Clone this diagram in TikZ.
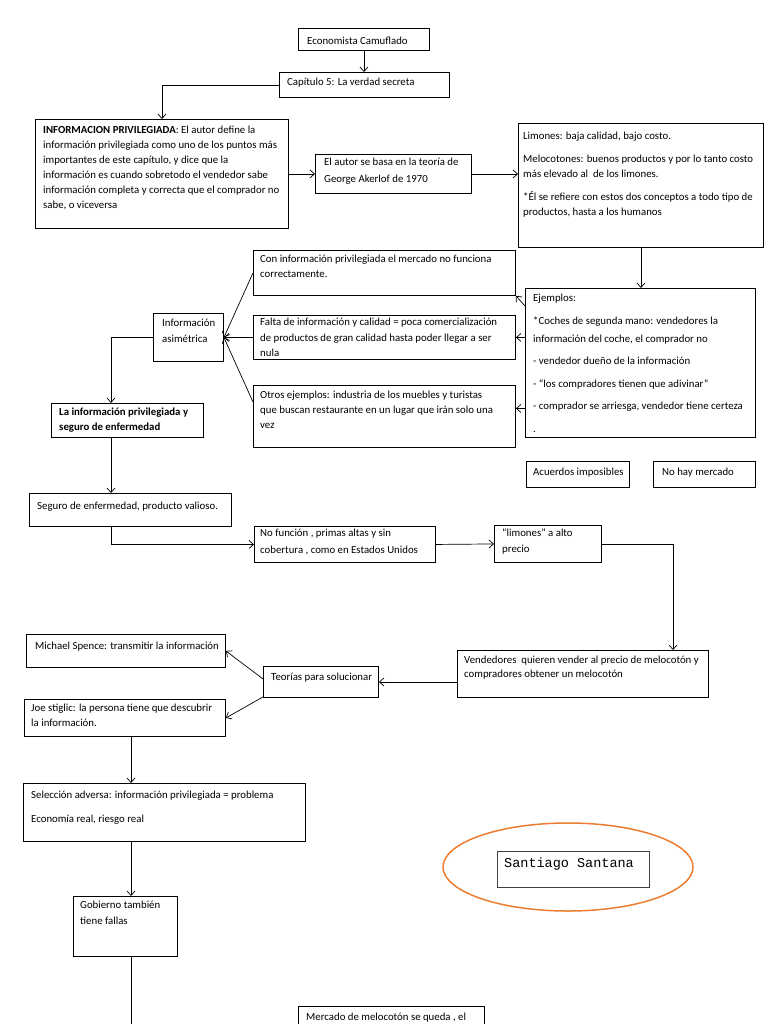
\documentclass[tikz,border=0pt]{standalone}
\usepackage{fontspec}
\setmainfont{Carlito}
\newfontfamily\monofam{Liberation Mono}
\usetikzlibrary{arrows.meta}
\definecolor{naranja}{HTML}{ED7D31}
\begin{document}
\begin{tikzpicture}[x=1pt, y=-1pt,
		caja/.style={draw, line width=0.9pt, inner sep=0pt, anchor=north west},
		texto/.style={anchor=north west, inner sep=0pt, align=left, font=\fontsize{10.8}{15}\selectfont, execute at begin node={\rule{0pt}{10.8pt}}},
		flecha/.style={line width=0.7pt, -{Straight Barb[length=4.5pt,width=8pt]}},
		linea/.style={line width=0.7pt}]
		\fill[white] (0,0) rectangle (768,1024);
		\useasboundingbox (0,0) rectangle (768,1024);
		
		% Parte superior
		\node[caja, minimum width=131pt, minimum height=22pt] (econ) at (298,28) {};
		\node[texto] (t-econ) at ([shift={(9,5.3)}]econ.north west) {Economista Camuflado};
		\node[caja, minimum width=170pt, minimum height=25pt] (cap) at (279,72) {};
		\node[texto] (t-cap) at ([shift={(8,2.5)}]cap.north west) {Capítulo 5: La verdad secreta};
		\node[caja, minimum width=253pt, minimum height=109pt] (info) at (35,119) {};
		\node[texto] (t-info) at ([shift={(8,7)}]info.north west) {\textbf{INFORMACION PRIVILEGIADA}: El autor define la\\información privilegiada como uno de los puntos más\\importantes de este capítulo, y dice que la\\información es cuando sobretodo el vendedor sabe\\información completa y correcta que el comprador no\\sabe, o viceversa};
		\node[caja, minimum width=156pt, minimum height=39pt] (ake) at (315,154) {};
		\node[texto, font=\fontsize{10.8}{17}\selectfont] (t-ake) at ([shift={(9,3.5)}]ake.north west) {El autor se basa en la teoría de\\George Akerlof de 1970};
		\node[caja, minimum width=245pt, minimum height=124pt] (lim) at (518,123) {};
		\node[texto, font=\fontsize{10.8}{14.5}\selectfont] (t-lim) at ([shift={(5,8.5)}]lim.north west) {Limones: baja calidad, bajo costo.\\[9pt]Melocotones: buenos productos y por lo tanto costo\\más elevado al~ de los limones.\\[9pt]{*}Él se refiere con estos dos conceptos a todo tipo de\\productos, hasta a los humanos};
		
		% Ejemplos y consecuencias
		\node[caja, minimum width=230pt, minimum height=149pt] (eje) at (525,288) {};
		\node[texto, font=\fontsize{10.8}{22.5}\selectfont] (t-eje) at ([shift={(8,6)}]eje.north west) {Ejemplos:\\{*}Coches de segunda mano: vendedores la\\[-4.5pt]información del coche, el comprador no\\- vendedor dueño de la información\\- “los compradores tienen que adivinar”\\- comprador se arriesga, vendedor tiene certeza\\.};
		\node[caja, minimum width=103pt, minimum height=26pt] (acu) at (526,461) {};
		\node[texto] (t-acu) at ([shift={(7,3.3)}]acu.north west) {Acuerdos imposibles};
		\node[caja, minimum width=102pt, minimum height=26pt] (nohay) at (653,461) {};
		\node[texto] (t-nohay) at ([shift={(9,3.3)}]nohay.north west) {No hay mercado};
		
		\node[caja, minimum width=262pt, minimum height=45pt] (con) at (253,250) {};
		\node[texto] (t-con) at ([shift={(7,4.5)}]con.north west) {Con información privilegiada el mercado no funciona\\correctamente.};
		\node[caja, minimum width=262pt, minimum height=44pt] (falta) at (253,315) {};
		\node[texto, font=\fontsize{10.8}{15.5}\selectfont] (t-falta) at ([shift={(7,3)}]falta.north west) {Falta de información y calidad = poca comercialización\\de productos de gran calidad hasta poder llegar a ser\\nula};
		\node[caja, minimum width=262pt, minimum height=62pt] (otros) at (253,385) {};
		\node[texto] (t-otros) at ([shift={(7,5.3)}]otros.north west) {Otros ejemplos: industria de los muebles y turistas\\que buscan restaurante en un lugar que irán solo una\\vez};
		\node[caja, minimum width=70pt, minimum height=48pt] (asim) at (153,313) {};
		\node[texto, font=\fontsize{10.8}{16}\selectfont] (t-asim) at ([shift={(9,6.3)}]asim.north west) {Información\\asimétrica};
		\node[caja, minimum width=152pt, minimum height=34pt] (lainfo) at (51,403) {};
		\node[texto] (t-lainfo) at ([shift={(8,4.3)}]lainfo.north west) {\textbf{La información privilegiada y}\\\textbf{seguro de enfermedad}};
		
		% Seguro de enfermedad
		\node[caja, minimum width=202pt, minimum height=33pt] (seg) at (29,493) {};
		\node[texto] (t-seg) at ([shift={(8,5.3)}]seg.north west) {Seguro de enfermedad, producto valioso.};
		\node[caja, minimum width=181pt, minimum height=36pt] (nofun) at (254,526) {};
		\node[texto, font=\fontsize{10.8}{17}\selectfont] (t-nofun) at ([shift={(6,2.3)}]nofun.north west) {No función , primas altas y sin\\cobertura , como en Estados Unidos};
		\node[caja, minimum width=107pt, minimum height=37pt] (limn) at (494,525) {};
		\node[texto, font=\fontsize{10.8}{16}\selectfont] (t-limn) at ([shift={(8,3.3)}]limn.north west) {“limones” a alto\\precio};
		\node[caja, minimum width=251pt, minimum height=47pt] (vend) at (457,650) {};
		\node[texto, font=\fontsize{10.8}{14}\selectfont] (t-vend) at ([shift={(7,5.3)}]vend.north west) {Vendedores~ quieren vender al precio de melocotón y\\compradores obtener un melocotón};
		\node[caja, minimum width=115pt, minimum height=31pt] (teo) at (263,666) {};
		\node[texto] (t-teo) at ([shift={(8,3.3)}]teo.north west) {Teorías para solucionar};
		\node[caja, minimum width=199pt, minimum height=33pt] (mich) at (26,634) {};
		\node[texto] (t-mich) at ([shift={(9,4.3)}]mich.north west) {Michael Spence: transmitir la información};
		\node[caja, minimum width=201pt, minimum height=37pt] (joe) at (24,699) {};
		\node[texto] (t-joe) at ([shift={(7,4.3)}]joe.north west) {Joe stiglic: la persona tiene que descubrir\\la información.};
		\node[caja, minimum width=282pt, minimum height=58pt] (sel) at (23,783) {};
		\node[texto] (t-sel) at ([shift={(8,7.3)}]sel.north west) {Selección adversa: información privilegiada = problema\\[9pt]Economía real, riesgo real};
		\node[caja, minimum width=104pt, minimum height=60pt] (gob) at (73,896) {};
		\node[texto, font=\fontsize{10.8}{16}\selectfont] (t-gob) at ([shift={(7,4.3)}]gob.north west) {Gobierno también\\tiene fallas};
		\node[caja, minimum width=186pt, minimum height=40pt] (mer) at (298,1006) {};
		\node[texto] (t-mer) at ([shift={(8,3.3)}]mer.north west) {Mercado de melocotón se queda , el};
		
		% Firma
		\draw[naranja, line width=1.5pt] (568,867) ellipse [x radius=125pt, y radius=44pt];
		\node[caja, draw=black!75, minimum width=152pt, minimum height=36pt] (san) at (497,851) {};
		\node[texto, font=\fontsize{13.5}{16}\monofam] (t-san) at ([shift={(7,5.9)}]san.north west) {Santiago Santana};
		
		% Conectores
		\draw[flecha] (econ.south) -- (econ.south |- cap.north);
		\draw[flecha] (cap.west) -| (info.north);
		\draw[flecha] (info.east) -- (info.east -| ake.west);
		\draw[flecha] (ake.east) -- (ake.east -| lim.west);
		\draw[flecha] (lim.south) -- (lim.south |- eje.north);
		\draw[flecha] ([yshift=-18pt]eje.north west) -- (con.south east);
		\draw[flecha] (eje.west |- falta.east) -- (falta.east);
		\coordinate (o1) at ([yshift=8pt]otros.east);
		\draw[flecha] (eje.west |- o1) -- (o1);
		\foreach \n in {con, falta}
			\draw[flecha] (\n.west) -- (asim.east);
		\draw[flecha] ([yshift=-17pt]otros.north west) -- (asim.east);
		
		\coordinate (colA) at (111,0);
		\draw[flecha] (asim.west) -| (colA |- lainfo.north);
		\draw[flecha] (colA |- lainfo.south) -- (colA |- seg.north);
		\draw[flecha] (colA |- seg.south) |- (nofun.west);
		\draw[flecha] (nofun.east) -- (limn.west);
		\coordinate (colB) at (673,0);
		\draw[flecha] (limn.east) -| (colB |- vend.north);
		\draw[flecha] (vend.west |- teo.east) -- (teo.east);
		\draw[flecha] ([yshift=3pt]teo.west) -- (mich.east);
		\draw[flecha] ([yshift=1pt]teo.south west) -- (joe.east);
		
		\coordinate (colC) at (131,0);
		\draw[flecha] (colC |- joe.south) -- (colC |- sel.north);
		\draw[flecha] (colC |- sel.south) -- (colC |- gob.north);
		\coordinate (fin) at (131,1030);
		\draw[linea] (colC |- gob.south) -- (fin);
	\end{tikzpicture}
\end{document}
